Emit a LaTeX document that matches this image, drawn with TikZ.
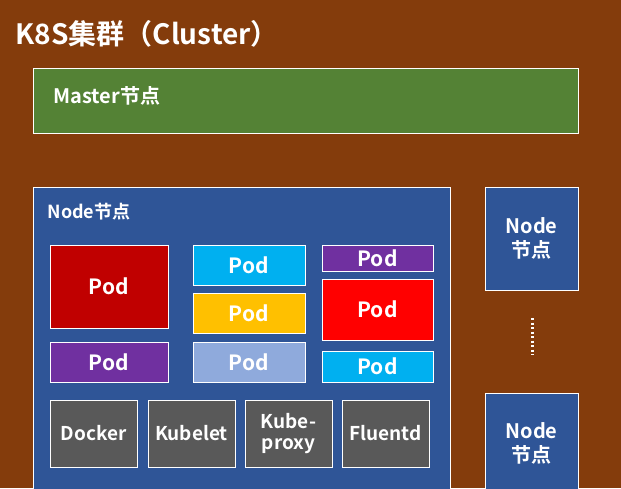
\documentclass[tikz,border=0pt]{standalone}
\usepackage{fontspec}
\setmainfont{Noto Sans CJK SC}[BoldFont={Noto Sans CJK SC Bold}]
\definecolor{bgbrown}{HTML}{843C0C}
\definecolor{mastergreen}{HTML}{548235}
\definecolor{nodeblue}{HTML}{2F5597}
\definecolor{poddark}{HTML}{C00000}
\definecolor{podred}{HTML}{FF0000}
\definecolor{podpurple}{HTML}{7030A0}
\definecolor{podcyan}{HTML}{00B0F0}
\definecolor{podgold}{HTML}{FFC000}
\definecolor{podpale}{HTML}{8FAADC}
\definecolor{compgray}{HTML}{595959}
\begin{document}
\begin{tikzpicture}[x=1pt, y=-1pt,
                    box/.style={draw=white, line width=1pt, inner sep=0pt, font=\bfseries, text=white},
                    pod/.style={box, font=\bfseries\fontsize{21}{21}\selectfont},
                    comp/.style={box, fill=compgray, align=center, font=\bfseries\fontsize{19}{21}\selectfont}]
\fill[bgbrown] (0,0) rectangle (621,488);
\useasboundingbox (0,0) rectangle (621,488);
\node[anchor=west, text=white, font=\bfseries\fontsize{28}{28}\selectfont] (title) at (12,34) {K8S集群（Cluster）};

\node[box, fill=mastergreen, minimum width=545pt, minimum height=65pt] (master) at (305.5,100.5) {};
\node[anchor=west, text=white, font=\bfseries\fontsize{20}{20}\selectfont] (mlabel) at (50,96) {Master节点};

\node[box, fill=nodeblue, minimum width=417pt, minimum height=320pt, anchor=north west] (node1) at (33,187) {};
\node[anchor=west, text=white, font=\bfseries\fontsize{18}{18}\selectfont] (nlabel) at (44,212) {Node节点};

% pods
\node[pod, fill=poddark, minimum width=118pt, minimum height=83pt] (p1) at (109,286.5) {Pod};
\node[pod, fill=podpurple, minimum width=118pt, minimum height=40pt] (p2) at (109,362) {Pod};
\node[pod, fill=podcyan, minimum width=112pt, minimum height=40pt] (p3) at (249,265) {Pod};
\node[pod, fill=podgold, minimum width=112pt, minimum height=40pt] (p4) at (249,313) {Pod};
\node[pod, fill=podpale, minimum width=112pt, minimum height=40pt] (p5) at (249,362) {Pod};
\node[pod, fill=podpurple, minimum width=111pt, minimum height=26pt] (p6) at (377.5,258) {Pod};
\node[pod, fill=podred, minimum width=111pt, minimum height=61pt] (p7) at (377.5,309.5) {Pod};
\node[pod, fill=podcyan, minimum width=111pt, minimum height=31pt] (p8) at (377.5,366.5) {Pod};

% components
\node[comp, minimum width=87pt, minimum height=67pt] (docker) at (93.5,433.5) {Docker};
\node[comp, minimum width=87pt, minimum height=67pt] (kubelet) at (191.5,433.5) {Kubelet};
\node[comp, minimum width=87pt, minimum height=67pt] (proxy) at (288.5,433.5) {Kube-\\proxy};
\node[comp, minimum width=87pt, minimum height=67pt] (fluentd) at (385.5,433.5) {Fluentd};

% other nodes
\node[box, fill=nodeblue, minimum width=93pt, minimum height=103pt, align=center, font=\bfseries\fontsize{20}{24}\selectfont] (node2) at (531.5,238.5) {Node\\节点};
\node[box, fill=nodeblue, minimum width=93pt, minimum height=110pt, anchor=north] (node3) at (531.5,393) {};
\node[text=white, align=center, font=\bfseries\fontsize{20}{24}\selectfont] (n3label) at (531.5,443) {Node\\节点};
\coordinate (dtop) at (532,318);
\coordinate (dbot) at (532,355);
\draw[white, line width=3pt, dash pattern=on 2pt off 2.5pt] (dtop) -- (dbot);
\end{tikzpicture}
\end{document}
